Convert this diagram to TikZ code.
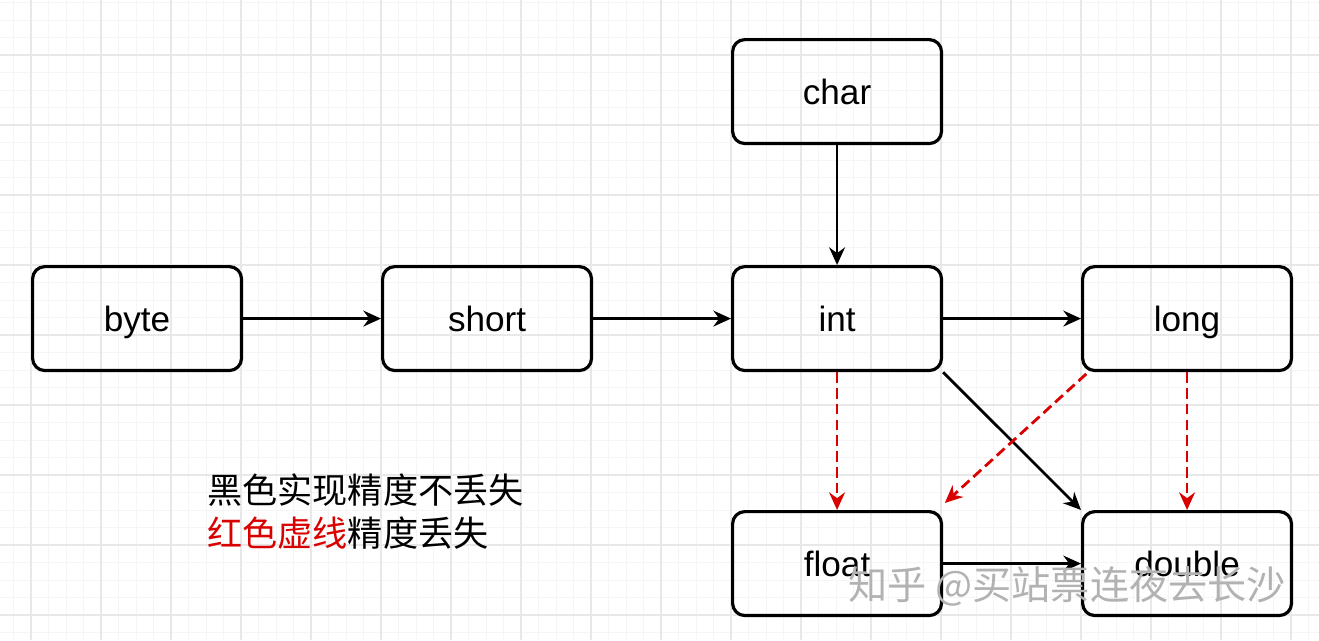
\documentclass[tikz,border=0pt]{standalone}
\usepackage{fontspec}
\usetikzlibrary{arrows.meta}
\setmainfont{Liberation Sans}
\newfontfamily\cjk{Noto Sans CJK SC}
\begin{document}
\begin{tikzpicture}[x=0.02cm,y=-0.02cm,
  box/.style={draw=black,line width=1.8pt,rounded corners=7pt,minimum width=4.18cm,minimum height=2.08cm,anchor=north west,font=\fontsize{20}{24}\selectfont,inner sep=0pt,text depth=0pt,text height=15pt},
  arr/.style={-{Stealth[length=10pt,width=9pt]},line width=1.6pt},
  red arr/.style={arr,red!85!black,dashed,dash pattern=on 6pt off 3pt}]
\useasboundingbox (0,0) rectangle (1319,640);
\fill[white] (0,0) rectangle (1319,640);
\foreach \x in {-4,13.5,...,1319} \draw[black!4,line width=0.5pt] (\x,0) -- (\x,640);
\foreach \y in {2.5,20,...,640} \draw[black!4,line width=0.5pt] (0,\y) -- (1319,\y);
\foreach \x in {31,101,...,1319} \draw[black!9,line width=0.6pt] (\x,0) -- (\x,640);
\foreach \y in {55,125,...,640} \draw[black!9,line width=0.6pt] (0,\y) -- (1319,\y);
\node[box] (char) at (731,38) {char};
\node[box] (byte) at (31,265) {byte};
\node[box] (short) at (381,265) {short};
\node[box] (int) at (731,265) {int};
\node[box] (long) at (1081,265) {long};
\node[box] (float) at (731,510) {float};
\node[box] (double) at (1081,510) {double};
\draw[arr] (byte) -- (short);
\draw[arr] (short) -- (int);
\draw[arr] (char) -- (int);
\draw[arr] (int) -- (long);
\draw[arr] (int.south east) -- (double.north west);
\draw[arr] (float) -- (double);
\draw[red arr] (int) -- (float);
\draw[red arr] (long) -- (double);
\draw[red arr] ([xshift=3pt,yshift=-1pt]long.south west) -- ([xshift=1pt,yshift=4pt]float.north east);
\node[anchor=west,font=\cjk\fontsize{20}{24}\selectfont,inner sep=0pt] (t1) at (207,490) {黑色实现精度不丢失};
\node[anchor=west,font=\cjk\fontsize{20}{24}\selectfont,inner sep=0pt] (t2) at (207,533) {\textcolor{red!85!black}{红色虚线}精度丢失};
\node[anchor=west,font=\cjk\fontsize{22.3}{26}\selectfont,text=black!30,inner sep=0pt] (wm) at (848,586) {知乎 @买站票连夜去长沙};
\end{tikzpicture}
\end{document}
